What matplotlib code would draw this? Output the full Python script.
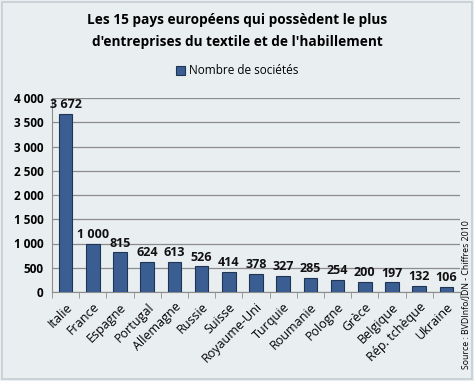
import numpy as np
import matplotlib.pyplot as plt

# data
pays = ["Italie", "France", "Espagne", "Portugal", "Allemagne", "Russie", "Suisse",
        "Royaume-Uni", "Turquie", "Roumanie", "Pologne", "Grèce", "Belgique",
        "Rép. tchèque", "Ukraine"]
societes = [3672, 1000, 815, 624, 613, 526, 414, 378, 327, 285, 254, 200, 197, 132, 106]
yticks = [0, 500, 1000, 1500, 2000, 2500, 3000, 3500, 4000]

plt.rcParams['font.family'] = ['Open Sans', 'DejaVu Sans']

def fmt(v):
    return f"{v:,}".replace(",", " ")

fig = plt.figure(figsize=(4.74, 3.81), dpi=100, facecolor='#e9eef1')
ax = fig.add_axes([52/474, 1 - 292/381, 408/474, 194/381])
ax.set_facecolor('#e9eef1')

x = np.arange(len(pays))
bars = ax.bar(x, societes, width=0.5, color='#3b5e92', edgecolor='#1f3556',
              linewidth=0.8, label='Nombre de sociétés', zorder=3)

for xi, v in zip(x, societes):
    ax.text(xi, v + 60, fmt(v), ha='center', va='bottom', fontsize=9,
            fontweight='bold', color='#111111', zorder=4)

ax.set_xlim(-0.5, len(pays) - 0.5)
ax.set_ylim(0, 4000)
ax.set_yticks(yticks)
ax.set_yticklabels([fmt(t) for t in yticks], fontsize=8.5, fontweight='bold')
ax.yaxis.grid(True, color='#8c8c8c', linewidth=0.9, zorder=0)
ax.tick_params(axis='y', length=0, pad=6)

ax.set_xticks(x)
ax.set_xticklabels(pays, rotation=45, ha='right', rotation_mode='anchor',
                   fontsize=9)
ax.set_xticks(np.arange(-0.5, len(pays)), minor=True)
ax.tick_params(axis='x', which='major', length=0, pad=6)
ax.tick_params(axis='x', which='minor', length=4, color='#8c8c8c')

for s in ['top', 'right']:
    ax.spines[s].set_visible(False)
ax.spines['left'].set_color('#8c8c8c')
ax.spines['bottom'].set_color('#8c8c8c')

fig.text(0.5, 1 - 20/381, "Les 15 pays européens qui possèdent le plus",
         ha='center', va='center', fontsize=9.8, fontweight='bold')
fig.text(0.5, 1 - 42/381, "d'entreprises du textile et de l'habillement",
         ha='center', va='center', fontsize=9.8, fontweight='bold')

fig.legend(handles=[bars], loc='center', bbox_to_anchor=(0.5, 1 - 71/381),
           frameon=False, fontsize=8.5, handlelength=0.8, handleheight=0.8,
           handletextpad=0.3)

fig.text(466/474, 1 - 295/381, "Source : BVDInfo/JDN - Chiffres 2010",
         rotation=90, ha='center', va='center', fontsize=6.3)

# light frame around the chart
fig.patches.append(plt.Rectangle((0.004, 0.005), 0.992, 0.99, transform=fig.transFigure,
                                 fill=False, edgecolor='#c5cdd3', linewidth=1.2))

fig.savefig("out.png", dpi=100, facecolor=fig.get_facecolor())
